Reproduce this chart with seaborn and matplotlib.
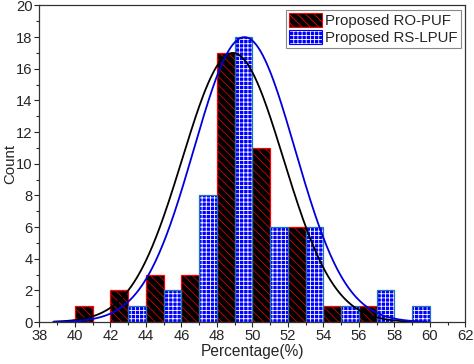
import numpy as np
import pandas as pd
import matplotlib
matplotlib.use("Agg")
import matplotlib.pyplot as plt
import seaborn as sns
from matplotlib.patches import Patch
from matplotlib.legend_handler import HandlerTuple
from matplotlib.ticker import MultipleLocator

# bar data (left edge of each 1-wide bin, count)
ro_left = [40, 42, 44, 46, 48, 50, 52, 54, 56]
ro_count = [1, 2, 3, 3, 17, 11, 6, 1, 1]
rs_left = [43, 45, 47, 49, 51, 53, 55, 57, 59]
rs_count = [1, 2, 8, 18, 6, 6, 1, 2, 1]

# fitted normal curves: (centre, sigma, peak)
ro_fit = (48.9, 2.85, 17.0)
rs_fit = (49.55, 2.85, 18.0)
curve_range = (38.8, 59.8)

labels = ["Proposed RO-PUF", "Proposed RS-LPUF"]

sns.set_style("ticks")
plt.rcParams["font.family"] = ["Liberation Sans", "DejaVu Sans"]
plt.rcParams["hatch.linewidth"] = 0.6

fig, ax = plt.subplots(figsize=(4.74, 3.64), dpi=100)
fig.subplots_adjust(left=0.083, right=0.982, bottom=0.115, top=0.985)


def draw_bars(left, count, hatch_lw=None, **kw):
    before = set(ax.patches)
    centers = [l + 0.5 for l in left]
    sns.histplot(x=centers, weights=count, binwidth=1,
                 binrange=(min(left), max(left) + 1), ax=ax, **kw)
    for p in list(ax.patches):
        if p in before:
            continue
        if p.get_height() == 0:
            p.remove()
        elif hatch_lw is not None and hasattr(p, "set_hatch_linewidth"):
            p.set_hatch_linewidth(hatch_lw)


# RO-PUF: black bars, thin red diagonal hatch and red edge
draw_bars(ro_left, ro_count, hatch_lw=0.5, color="black", edgecolor="red",
          linewidth=0.9, hatch="\\\\\\\\", alpha=1)
# RS-LPUF: blue with white check pattern, then a blue outline
draw_bars(rs_left, rs_count, hatch_lw=0.6, color="#0000ff",
          edgecolor="white", linewidth=0, hatch="++++", alpha=1)
draw_bars(rs_left, rs_count, fill=False, edgecolor="#0000ff",
          linewidth=0.9)

xs = np.linspace(curve_range[0], curve_range[1], 400)
for (mu, s, peak), col in [(ro_fit, "black"), (rs_fit, "#0000dd")]:
    ys = peak * np.exp(-(xs - mu) ** 2 / (2 * s ** 2))
    sns.lineplot(x=xs, y=ys, color=col, linewidth=1.3, ax=ax)

ax.set_xlim(38, 62)
ax.set_ylim(0, 20)
ax.xaxis.set_major_locator(MultipleLocator(2))
ax.xaxis.set_minor_locator(MultipleLocator(1))
ax.yaxis.set_major_locator(MultipleLocator(2))
ax.yaxis.set_minor_locator(MultipleLocator(1))
ax.tick_params(which="major", direction="out", length=3.5, width=0.8,
               labelsize=10.6, pad=1.5)
ax.tick_params(which="minor", direction="out", length=2, width=0.8)
for sp in ax.spines.values():
    sp.set_visible(True)
    sp.set_color("#333333")
    sp.set_linewidth(0.9)

ax.set_xlabel("Percentage(%)", fontsize=11.2, labelpad=1)
ax.set_ylabel("Count", fontsize=10.8)
ax.yaxis.set_label_coords(-0.053, 0.5)

h_ro = Patch(facecolor="black", edgecolor="red", hatch="\\\\\\\\", linewidth=0.8)
h_rs = (Patch(facecolor="#0000ff", edgecolor="white", hatch="++++", linewidth=0),
        Patch(fill=False, edgecolor="#0000ff", linewidth=0.8))
leg = ax.legend([h_ro, h_rs], labels, loc="upper right",
                handler_map={tuple: HandlerTuple(ndivide=1)},
                fontsize=10.8, frameon=True, fancybox=False,
                edgecolor="#888888", framealpha=1, borderaxespad=0.3,
                handlelength=2.2, handleheight=1.1, handletextpad=0.2,
                borderpad=0.2, labelspacing=0.1)
leg.get_frame().set_linewidth(0.8)

fig.savefig("out.png", dpi=100)
